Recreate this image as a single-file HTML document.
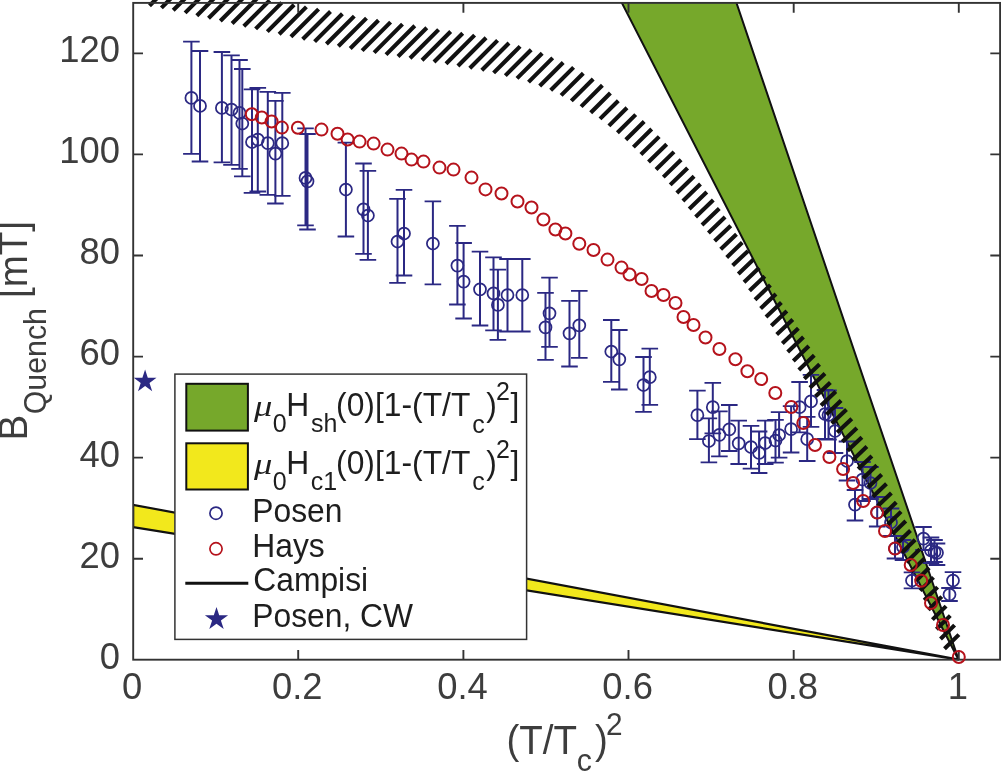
<!DOCTYPE html>
<html lang="en"><head><meta charset="utf-8"><title>Quench field vs temperature</title>
<style>html,body{margin:0;padding:0;background:#fff}svg{display:block}</style></head>
<body>
<svg width="1001" height="772" viewBox="0 0 1001 772" font-family='"Liberation Sans", Arial, Helvetica, sans-serif'>
<defs><clipPath id="axclip"><rect x="133" y="0" width="868" height="661"/></clipPath><clipPath id="axclip2"><rect x="133" y="2.7" width="868" height="658"/></clipPath></defs>
<rect x="0" y="0" width="1001" height="772" fill="#ffffff"/>
<g clip-path="url(#axclip2)">
<polygon points="133.1,504.8 133.1,527.1 958.8,659.7" fill="#f2e81c" stroke="#111" stroke-width="2.2" stroke-linejoin="miter"/>
<polygon points="620.4,0 735.5,0 958.8,660.7" fill="#76a82b"/>
<path d="M620.4,0 L958.8,660.2 L735.5,0" fill="none" stroke="#111" stroke-width="2.0" stroke-linejoin="miter"/>
</g>
<g clip-path="url(#axclip)">
<g stroke="#2b2883" fill="none" stroke-linecap="butt">
<path d="M191.4,41.6V153.9M200.0,51.0V161.5M221.9,52.0V162.3M231.5,55.4V164.9M239.5,60.0V168.9M242.3,69.0V176.4M252.0,89.3V192.9M257.8,87.9V191.5M267.8,91.9V194.9M275.4,100.9V203.5M282.3,92.9V195.9M305.5,128.4V225.3M307.5,134.0V229.5M345.9,142.6V236.5M363.5,163.5V253.9M367.9,170.9V259.9M397.5,198.9V282.9M404.0,189.9V275.5M432.9,201.3V284.3M457.4,225.9V304.5M463.6,243.0V318.5M480.0,251.6V325.5M493.5,257.3V330.3M497.9,269.7V339.9M507.5,259.0V331.5M522.3,259.0V331.5M549.5,277.7V346.9M545.5,292.9V359.9M569.5,300.9V366.5M579.3,290.9V357.9M611.3,320.0V381.9M619.3,330.0V389.5M643.5,357.0V411.9M649.8,348.6V404.9M697.4,390.6V439.2M712.8,382.8V433.3M708.9,418.3V462.4M719.4,411.3V456.4M729.3,405.0V451.0M738.7,420.6V464.0M751.0,425.9V468.7M759.1,431.5V473.0M765.2,420.7V464.0M775.5,419.8V462.6M779.1,412.2V457.6M791.1,406.2V452.5M799.6,382.0V432.3M807.2,416.9V461.0M811.0,374.8V426.8M825.0,390.0V439.0M828.5,390.5V439.5M835.0,408.0V453.0M847.0,441.5V480.5M862.5,462.0V501.0M870.5,467.0V499.0M855.0,490.0V520.5M877.2,497.0V526.5M891.0,508.5V536.0M895.0,536.0V558.5M903.0,540.0V560.0M923.5,527.0V550.0M931.0,537.5V563.0M934.5,540.0V562.0M937.0,543.5V565.0M912.0,572.4V588.3M953.0,572.2V588.2M949.5,588.0V601.0" stroke-width="2.0"/>
<path d="M183.1,41.6h16.6M183.1,153.9h16.6M191.7,51.0h16.6M191.7,161.5h16.6M213.6,52.0h16.6M213.6,162.3h16.6M223.2,55.4h16.6M223.2,164.9h16.6M231.2,60.0h16.6M231.2,168.9h16.6M234.0,69.0h16.6M234.0,176.4h16.6M243.7,89.3h16.6M243.7,192.9h16.6M249.5,87.9h16.6M249.5,191.5h16.6M259.5,91.9h16.6M259.5,194.9h16.6M267.1,100.9h16.6M267.1,203.5h16.6M274.0,92.9h16.6M274.0,195.9h16.6M297.2,128.4h16.6M297.2,225.3h16.6M299.2,134.0h16.6M299.2,229.5h16.6M337.6,142.6h16.6M337.6,236.5h16.6M355.2,163.5h16.6M355.2,253.9h16.6M359.6,170.9h16.6M359.6,259.9h16.6M389.2,198.9h16.6M389.2,282.9h16.6M395.7,189.9h16.6M395.7,275.5h16.6M424.6,201.3h16.6M424.6,284.3h16.6M449.1,225.9h16.6M449.1,304.5h16.6M455.3,243.0h16.6M455.3,318.5h16.6M471.7,251.6h16.6M471.7,325.5h16.6M485.2,257.3h16.6M485.2,330.3h16.6M489.6,269.7h16.6M489.6,339.9h16.6M499.2,259.0h16.6M499.2,331.5h16.6M514.0,259.0h16.6M514.0,331.5h16.6M541.2,277.7h16.6M541.2,346.9h16.6M537.2,292.9h16.6M537.2,359.9h16.6M561.2,300.9h16.6M561.2,366.5h16.6M571.0,290.9h16.6M571.0,357.9h16.6M603.0,320.0h16.6M603.0,381.9h16.6M611.0,330.0h16.6M611.0,389.5h16.6M635.2,357.0h16.6M635.2,411.9h16.6M641.5,348.6h16.6M641.5,404.9h16.6M689.1,390.6h16.6M689.1,439.2h16.6M704.5,382.8h16.6M704.5,433.3h16.6M700.6,418.3h16.6M700.6,462.4h16.6M711.1,411.3h16.6M711.1,456.4h16.6M721.0,405.0h16.6M721.0,451.0h16.6M730.4,420.6h16.6M730.4,464.0h16.6M742.7,425.9h16.6M742.7,468.7h16.6M750.8,431.5h16.6M750.8,473.0h16.6M756.9,420.7h16.6M756.9,464.0h16.6M767.2,419.8h16.6M767.2,462.6h16.6M770.8,412.2h16.6M770.8,457.6h16.6M782.8,406.2h16.6M782.8,452.5h16.6M791.3,382.0h16.6M791.3,432.3h16.6M798.9,416.9h16.6M798.9,461.0h16.6M802.7,374.8h16.6M802.7,426.8h16.6M816.7,390.0h16.6M816.7,439.0h16.6M820.2,390.5h16.6M820.2,439.5h16.6M826.7,408.0h16.6M826.7,453.0h16.6M838.7,441.5h16.6M838.7,480.5h16.6M854.2,462.0h16.6M854.2,501.0h16.6M862.2,467.0h16.6M862.2,499.0h16.6M846.7,490.0h16.6M846.7,520.5h16.6M868.9,497.0h16.6M868.9,526.5h16.6M882.7,508.5h16.6M882.7,536.0h16.6M886.7,536.0h16.6M886.7,558.5h16.6M894.7,540.0h16.6M894.7,560.0h16.6M915.2,527.0h16.6M915.2,550.0h16.6M922.7,537.5h16.6M922.7,563.0h16.6M926.2,540.0h16.6M926.2,562.0h16.6M928.7,543.5h16.6M928.7,565.0h16.6M903.7,572.4h16.6M903.7,588.3h16.6M944.7,572.2h16.6M944.7,588.2h16.6M941.2,588.0h16.6M941.2,601.0h16.6" stroke-width="1.8"/>
<circle cx="191.4" cy="97.9" r="6.0" stroke-width="1.75"/>
<circle cx="200.0" cy="105.9" r="6.0" stroke-width="1.75"/>
<circle cx="221.9" cy="107.9" r="6.0" stroke-width="1.75"/>
<circle cx="231.5" cy="109.5" r="6.0" stroke-width="1.75"/>
<circle cx="239.5" cy="112.9" r="6.0" stroke-width="1.75"/>
<circle cx="242.3" cy="123.5" r="6.0" stroke-width="1.75"/>
<circle cx="252.0" cy="142.0" r="6.0" stroke-width="1.75"/>
<circle cx="257.8" cy="139.6" r="6.0" stroke-width="1.75"/>
<circle cx="267.8" cy="143.2" r="6.0" stroke-width="1.75"/>
<circle cx="275.4" cy="153.6" r="6.0" stroke-width="1.75"/>
<circle cx="282.3" cy="143.2" r="6.0" stroke-width="1.75"/>
<circle cx="305.5" cy="177.9" r="6.0" stroke-width="1.75"/>
<circle cx="307.5" cy="181.3" r="6.0" stroke-width="1.75"/>
<circle cx="345.9" cy="189.5" r="6.0" stroke-width="1.75"/>
<circle cx="363.5" cy="209.3" r="6.0" stroke-width="1.75"/>
<circle cx="367.9" cy="215.5" r="6.0" stroke-width="1.75"/>
<circle cx="397.5" cy="241.5" r="6.0" stroke-width="1.75"/>
<circle cx="404.0" cy="233.5" r="6.0" stroke-width="1.75"/>
<circle cx="432.9" cy="243.5" r="6.0" stroke-width="1.75"/>
<circle cx="457.4" cy="265.6" r="6.0" stroke-width="1.75"/>
<circle cx="463.6" cy="281.6" r="6.0" stroke-width="1.75"/>
<circle cx="480.0" cy="289.3" r="6.0" stroke-width="1.75"/>
<circle cx="493.5" cy="293.3" r="6.0" stroke-width="1.75"/>
<circle cx="497.9" cy="304.9" r="6.0" stroke-width="1.75"/>
<circle cx="507.5" cy="295.0" r="6.0" stroke-width="1.75"/>
<circle cx="522.3" cy="295.0" r="6.0" stroke-width="1.75"/>
<circle cx="549.5" cy="313.3" r="6.0" stroke-width="1.75"/>
<circle cx="545.5" cy="327.3" r="6.0" stroke-width="1.75"/>
<circle cx="569.5" cy="333.3" r="6.0" stroke-width="1.75"/>
<circle cx="579.3" cy="325.3" r="6.0" stroke-width="1.75"/>
<circle cx="611.3" cy="351.5" r="6.0" stroke-width="1.75"/>
<circle cx="619.3" cy="359.3" r="6.0" stroke-width="1.75"/>
<circle cx="643.5" cy="385.0" r="6.0" stroke-width="1.75"/>
<circle cx="649.8" cy="377.2" r="6.0" stroke-width="1.75"/>
<circle cx="697.4" cy="415.2" r="6.0" stroke-width="1.75"/>
<circle cx="712.8" cy="407.2" r="6.0" stroke-width="1.75"/>
<circle cx="708.9" cy="441.0" r="6.0" stroke-width="1.75"/>
<circle cx="719.4" cy="434.8" r="6.0" stroke-width="1.75"/>
<circle cx="729.3" cy="429.4" r="6.0" stroke-width="1.75"/>
<circle cx="738.7" cy="443.3" r="6.0" stroke-width="1.75"/>
<circle cx="751.0" cy="447.0" r="6.0" stroke-width="1.75"/>
<circle cx="759.1" cy="452.9" r="6.0" stroke-width="1.75"/>
<circle cx="765.2" cy="443.0" r="6.0" stroke-width="1.75"/>
<circle cx="775.5" cy="440.5" r="6.0" stroke-width="1.75"/>
<circle cx="779.1" cy="435.0" r="6.0" stroke-width="1.75"/>
<circle cx="791.1" cy="429.2" r="6.0" stroke-width="1.75"/>
<circle cx="799.6" cy="407.2" r="6.0" stroke-width="1.75"/>
<circle cx="807.2" cy="439.2" r="6.0" stroke-width="1.75"/>
<circle cx="811.0" cy="401.4" r="6.0" stroke-width="1.75"/>
<circle cx="825.0" cy="414.0" r="6.0" stroke-width="1.75"/>
<circle cx="828.5" cy="415.0" r="6.0" stroke-width="1.75"/>
<circle cx="835.0" cy="431.0" r="6.0" stroke-width="1.75"/>
<circle cx="847.0" cy="461.0" r="6.0" stroke-width="1.75"/>
<circle cx="862.5" cy="479.5" r="6.0" stroke-width="1.75"/>
<circle cx="870.5" cy="483.0" r="6.0" stroke-width="1.75"/>
<circle cx="855.0" cy="504.6" r="6.0" stroke-width="1.75"/>
<circle cx="877.2" cy="512.5" r="6.0" stroke-width="1.75"/>
<circle cx="891.0" cy="522.5" r="6.0" stroke-width="1.75"/>
<circle cx="895.0" cy="548.5" r="6.0" stroke-width="1.75"/>
<circle cx="903.0" cy="547.0" r="6.0" stroke-width="1.75"/>
<circle cx="923.5" cy="538.6" r="6.0" stroke-width="1.75"/>
<circle cx="931.0" cy="550.5" r="6.0" stroke-width="1.75"/>
<circle cx="934.5" cy="552.0" r="6.0" stroke-width="1.75"/>
<circle cx="937.0" cy="552.8" r="6.0" stroke-width="1.75"/>
<circle cx="912.0" cy="580.5" r="6.0" stroke-width="1.75"/>
<circle cx="953.0" cy="580.5" r="6.0" stroke-width="1.75"/>
<circle cx="949.5" cy="594.5" r="6.0" stroke-width="1.75"/>
</g>
<path d="M149.5,5.7L172.8,-17.6M161.4,7.9L184.6,-15.3M173.2,10.3L196.6,-13.0M185.1,12.9L208.6,-10.7M196.8,15.7L220.8,-8.4M208.5,18.3L233.0,-6.2M220.3,21.0L245.2,-4.0M232.1,23.5L257.3,-1.8M243.8,26.3L269.7,0.4M255.6,28.9L281.8,2.6M267.3,31.6L294.1,4.8M279.1,34.2L306.4,6.9M290.9,36.8L318.6,9.1M302.7,39.2L330.5,11.5M314.6,41.6L342.4,13.8M326.4,44.0L354.3,16.1M338.3,46.3L366.5,18.1M350.2,48.5L378.5,20.2M362.1,50.6L390.6,22.1M374.1,52.6L402.5,24.1M386.0,54.6L414.8,25.8M398.0,56.5L426.8,27.7M410.0,58.3L438.6,29.6M422.0,60.2L450.7,31.5M434.0,62.0L462.7,33.3M446.0,63.7L474.6,35.1M457.9,66.0L486.1,37.8M469.8,68.2L497.6,40.4M481.8,70.2L509.0,43.0M493.6,72.9L520.1,46.4M505.3,75.6L531.2,49.8M517.0,78.4L542.2,53.2M528.5,82.1L552.7,57.9M539.7,86.0L563.2,62.5M550.7,90.3L573.6,67.4M561.1,95.4L583.3,73.2M571.3,100.9L593.2,79.0M581.1,106.6L602.4,85.3M590.7,112.8L610.4,93.0M600.0,118.9L618.3,100.7M608.9,125.9L627.0,107.8M617.4,132.7L635.7,114.6M625.8,139.7L644.2,121.5M633.4,147.1L651.7,129.0M640.9,154.5L659.2,136.6M648.5,162.0L666.7,144.2M656.0,169.5L674.0,151.9M663.3,177.1L681.1,159.8M670.2,184.9L687.6,168.0M676.8,193.0L694.1,176.2M682.9,201.0L700.5,184.1M689.2,209.0L706.8,192.1M695.6,217.0L713.3,200.1M702.0,225.0L719.3,208.4M708.4,233.0L725.1,217.1M714.6,241.1L730.8,225.7M720.7,249.2L736.5,234.2M726.7,257.4L742.3,242.6M732.6,265.5L748.1,250.9M738.3,273.9L753.7,259.3M744.0,282.2L759.2,267.8M749.5,290.7L764.8,276.2M755.0,299.7L770.4,285.1M760.6,308.5L776.0,293.9M766.0,317.1L781.4,302.5M771.3,325.7L786.9,310.9M776.7,334.6L792.8,319.4M782.3,343.5L798.4,328.3M787.7,352.1L803.5,337.1M793.3,361.0L808.9,346.1M798.8,369.9L814.3,355.2M804.3,378.8L819.6,364.3M809.9,387.7L825.0,373.4M815.4,396.6L830.4,382.5M821.0,405.6L835.8,391.5M826.4,414.6L841.1,400.6M831.7,423.6L846.5,409.6M837.1,432.6L851.8,418.7M842.3,441.7L856.9,427.9M847.5,450.8L861.9,437.2M852.8,459.9L866.9,446.5M858.1,469.0L871.9,455.9M863.1,478.3L876.8,465.2M867.9,487.6L881.7,474.5M872.8,496.8L886.5,483.7M877.7,506.1L891.4,493.0M882.7,515.4L896.3,502.3M887.6,524.7L901.1,511.6M892.3,534.1L905.8,521.0M897.0,543.4L910.5,530.4M901.7,552.8L915.2,539.7M906.4,562.2L919.9,549.1M911.1,571.6L924.5,558.5M915.8,581.0L929.2,567.8M920.1,590.6L933.5,577.4M924.2,600.3L937.6,587.1M928.3,609.9L941.8,596.6M932.4,619.6L946.1,606.1M936.4,629.3L950.3,615.6M940.5,639.0L954.6,625.1M944.5,648.7L958.9,634.6" stroke="#111" stroke-width="4.1" fill="none" stroke-linecap="butt"/>
</g>
<polygon points="145.1,369.5 147.8,377.8 156.5,377.8 149.5,382.9 152.2,391.2 145.1,386.1 138.0,391.2 140.7,382.9 133.7,377.8 142.4,377.8" fill="#2b2883"/>
<g stroke="#333333" stroke-width="1.9" fill="none">
<rect x="133.2" y="2.9" width="866.9" height="656.8"/>
<path d="M298.2,659.7v-9.8M298.2,2.9v9.8M463.4,659.7v-9.8M463.4,2.9v9.8M628.5,659.7v-9.8M628.5,2.9v9.8M793.7,659.7v-9.8M793.7,2.9v9.8M958.8,659.7v-9.8M958.8,2.9v9.8M133.2,558.7h9.8M1000.1,558.7h-9.8M133.2,457.6h9.8M1000.1,457.6h-9.8M133.2,356.6h9.8M1000.1,356.6h-9.8M133.2,255.5h9.8M1000.1,255.5h-9.8M133.2,154.4h9.8M1000.1,154.4h-9.8M133.2,53.4h9.8M1000.1,53.4h-9.8"/>
</g>
<g stroke="#b5121b" fill="none" stroke-width="2.0">
<circle cx="251.8" cy="114.2" r="6.0"/>
<circle cx="261.8" cy="117.5" r="6.0"/>
<circle cx="271.6" cy="121.5" r="6.0"/>
<circle cx="281.9" cy="127.6" r="6.0"/>
<circle cx="297.9" cy="127.7" r="6.0"/>
<circle cx="321.5" cy="129.6" r="6.0"/>
<circle cx="337.5" cy="133.7" r="6.0"/>
<circle cx="347.6" cy="139.5" r="6.0"/>
<circle cx="359.6" cy="141.6" r="6.0"/>
<circle cx="373.6" cy="143.6" r="6.0"/>
<circle cx="387.5" cy="149.6" r="6.0"/>
<circle cx="401.5" cy="153.6" r="6.0"/>
<circle cx="411.5" cy="159.6" r="6.0"/>
<circle cx="423.5" cy="161.6" r="6.0"/>
<circle cx="439.5" cy="167.6" r="6.0"/>
<circle cx="453.5" cy="169.6" r="6.0"/>
<circle cx="471.5" cy="177.6" r="6.0"/>
<circle cx="485.5" cy="189.4" r="6.0"/>
<circle cx="501.5" cy="193.5" r="6.0"/>
<circle cx="517.5" cy="201.5" r="6.0"/>
<circle cx="531.5" cy="207.5" r="6.0"/>
<circle cx="543.4" cy="219.5" r="6.0"/>
<circle cx="555.4" cy="229.5" r="6.0"/>
<circle cx="565.4" cy="233.5" r="6.0"/>
<circle cx="579.3" cy="243.8" r="6.0"/>
<circle cx="593.5" cy="250.0" r="6.0"/>
<circle cx="607.5" cy="259.6" r="6.0"/>
<circle cx="621.5" cy="267.6" r="6.0"/>
<circle cx="629.5" cy="274.5" r="6.0"/>
<circle cx="641.6" cy="279.0" r="6.0"/>
<circle cx="651.5" cy="291.0" r="6.0"/>
<circle cx="663.5" cy="295.0" r="6.0"/>
<circle cx="675.5" cy="303.0" r="6.0"/>
<circle cx="683.5" cy="317.0" r="6.0"/>
<circle cx="693.5" cy="325.0" r="6.0"/>
<circle cx="705.5" cy="337.5" r="6.0"/>
<circle cx="719.4" cy="349.0" r="6.0"/>
<circle cx="735.4" cy="359.2" r="6.0"/>
<circle cx="747.4" cy="371.2" r="6.0"/>
<circle cx="761.2" cy="379.0" r="6.0"/>
<circle cx="775.3" cy="393.0" r="6.0"/>
<circle cx="791.3" cy="407.0" r="6.0"/>
<circle cx="803.3" cy="423.0" r="6.0"/>
<circle cx="815.0" cy="445.0" r="6.0"/>
<circle cx="829.4" cy="457.0" r="6.0"/>
<circle cx="843.1" cy="469.0" r="6.0"/>
<circle cx="853.1" cy="483.0" r="6.0"/>
<circle cx="863.2" cy="501.0" r="6.0"/>
<circle cx="877.1" cy="512.6" r="6.0"/>
<circle cx="885.0" cy="531.0" r="6.0"/>
<circle cx="895.0" cy="548.6" r="6.0"/>
<circle cx="910.7" cy="565.0" r="6.0"/>
<circle cx="921.2" cy="580.7" r="6.0"/>
<circle cx="931.0" cy="603.0" r="6.0"/>
<circle cx="943.0" cy="625.0" r="6.0"/>
<circle cx="958.8" cy="657.0" r="6.0"/>
</g>
<g fill="#3d3d3d" font-size="36.4px" transform="scale(1,1.04)">
<text x="132.2" y="672.3" text-anchor="middle">0</text>
<text x="297.3" y="672.3" text-anchor="middle">0.2</text>
<text x="462.5" y="672.3" text-anchor="middle">0.4</text>
<text x="627.6" y="672.3" text-anchor="middle">0.6</text>
<text x="792.8" y="672.3" text-anchor="middle">0.8</text>
<text x="957.9" y="672.3" text-anchor="middle">1</text>
<text x="120.1" y="642.9" text-anchor="end">0</text>
<text x="120.1" y="545.7" text-anchor="end">20</text>
<text x="120.1" y="448.6" text-anchor="end">40</text>
<text x="120.1" y="351.4" text-anchor="end">60</text>
<text x="120.1" y="254.2" text-anchor="end">80</text>
<text x="120.1" y="157.1" text-anchor="end">100</text>
<text x="120.1" y="59.9" text-anchor="end">120</text>
</g>
<g fill="#3d3d3d">
<text transform="scale(1,1.04)"><tspan x="506.5" y="724.6" font-size="38.5px">(T/T</tspan><tspan x="576.7" y="741.0" font-size="30.3px">c</tspan><tspan x="595.0" y="724.6" font-size="38.5px">)</tspan><tspan x="606.1" y="707.1" font-size="29.8px">2</tspan></text>
<text transform="rotate(-90) scale(1,1.04)"><tspan x="-440.5" y="26.0" font-size="38.5px">B</tspan><tspan x="-414.2" y="43.8" font-size="30.3px">Quench</tspan><tspan x="-297.9" y="26.0" font-size="38.5px">[mT]</tspan></text>
</g>
<rect x="174.9" y="374.1" width="351.7" height="265.3" fill="#ffffff" stroke="#333333" stroke-width="1.5"/>
<rect x="186.3" y="383.8" width="61.6" height="46.8" fill="#76a82b" stroke="#111" stroke-width="2.0"/>
<rect x="186.3" y="443.3" width="61.6" height="46.2" fill="#f2e81c" stroke="#111" stroke-width="2.0"/>
<circle cx="216.0" cy="513.2" r="6.1" fill="none" stroke="#2b2883" stroke-width="1.7"/>
<circle cx="216.0" cy="548.8" r="6.1" fill="none" stroke="#b5121b" stroke-width="1.7"/>
<path d="M185.3,583.2H248.3" stroke="#111" stroke-width="2.9"/>
<polygon points="216.5,606.9 219.2,615.3 228.1,615.3 220.9,620.5 223.7,629.0 216.5,623.8 209.3,629.0 212.1,620.5 204.9,615.3 213.8,615.3" fill="#2b2883"/>
<g fill="#1e1e1e">
<text transform="translate(253.9,415.7) scale(1.2,1)" font-family='"Liberation Serif", "DejaVu Serif", serif' font-style="italic" font-size="30.5px">μ</text><text transform="scale(1,1.04)"><tspan x="272.7" y="415.5" font-size="25.0px">0</tspan><tspan x="286.3" y="399.7" font-size="31.8px">H</tspan><tspan x="310.9" y="415.5" font-size="25.0px">sh</tspan><tspan x="336.1" y="399.7" font-size="31.8px">(0)[1-(T/T</tspan><tspan x="472.3" y="415.9" font-size="25.0px">c</tspan><tspan x="486.3" y="399.7" font-size="31.8px">)</tspan><tspan x="495.9" y="384.8" font-size="25.0px">2</tspan><tspan x="510.6" y="399.7" font-size="31.8px">]</tspan></text>
<text transform="translate(253.9,473.5) scale(1.2,1)" font-family='"Liberation Serif", "DejaVu Serif", serif' font-style="italic" font-size="30.5px">μ</text><text transform="scale(1,1.04)"><tspan x="272.7" y="471.1" font-size="25.0px">0</tspan><tspan x="286.3" y="455.3" font-size="31.8px">H</tspan><tspan x="310.8" y="471.1" font-size="25.0px">c1</tspan><tspan x="336.1" y="455.3" font-size="31.8px">(0)[1-(T/T</tspan><tspan x="472.3" y="471.4" font-size="25.0px">c</tspan><tspan x="486.3" y="455.3" font-size="31.8px">)</tspan><tspan x="495.9" y="440.4" font-size="25.0px">2</tspan><tspan x="510.6" y="455.3" font-size="31.8px">]</tspan></text>
<text transform="scale(1,1.04)" x="252.3" y="501.8" font-size="31.8px">Posen</text>
<text transform="scale(1,1.04)" x="252.3" y="535.1" font-size="31.8px">Hays</text>
<text transform="scale(1,1.04)" x="253.3" y="568.5" font-size="31.8px">Campisi</text>
<text transform="scale(1,1.04)" x="252.3" y="602.9" font-size="31.8px">Posen, CW</text>
</g>
</svg>
</body></html>
